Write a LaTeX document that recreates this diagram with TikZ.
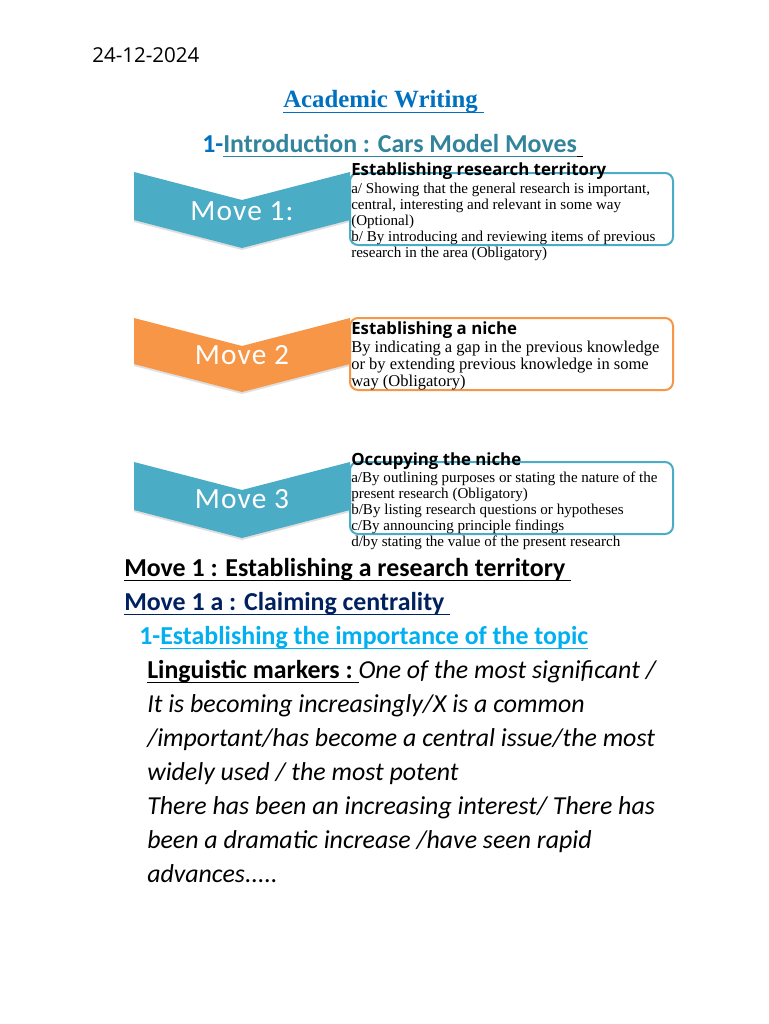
\documentclass[tikz,border=0pt]{standalone}
\usepackage{fontspec}
\setmainfont{Carlito}
\newfontfamily\serifface{Liberation Serif}
\newfontfamily\headface{Open Sans}
\newfontfamily\chevface[LetterSpace=4]{Carlito}
\usetikzlibrary{shadows}
\definecolor{cavBlue}{RGB}{0,112,192}
\definecolor{cavTeal}{RGB}{49,132,155}
\definecolor{cavNavy}{RGB}{0,32,96}
\definecolor{cavSky}{RGB}{0,176,240}
\definecolor{moveTeal}{RGB}{75,172,198}
\definecolor{moveOrange}{RGB}{247,150,70}
\newsavebox{\undlbox}
\newcommand{\undl}[1]{\sbox{\undlbox}{#1}\rlap{\vrule height -2.9pt depth 4pt width \wd\undlbox}\usebox{\undlbox}}

\tikzset{
  linetext/.style={anchor=base west, inner sep=0pt},
  movelabel/.style={anchor=base, inner sep=0pt, text=white, font=\chevface\fontsize{22}{26}\selectfont},
  chevshadow/.style={drop shadow={opacity=0.25, shadow xshift=0pt, shadow yshift=-1.5pt}},
  movebox/.style={rounded corners=6pt, line width=1.5pt},
  boxhead/.style={linetext, font=\headface\bfseries\fontsize{12.6}{14}\selectfont},
  boxline/.style={linetext, font=\serifface\fontsize{11.3}{12}\selectfont},
  bodyhead/.style={linetext, font=\bfseries\fontsize{19.4}{22}\selectfont},
  bodyline/.style={linetext, font=\itshape\fontsize{19.4}{22}\selectfont}
}

\begin{document}
\begin{tikzpicture}[x=0.75pt, y=-0.75pt]
    \fill[white] (0,0) rectangle (768,1024);
    \useasboundingbox (0,0) rectangle (768,1024);
    \node[linetext, font=\headface\fontsize{15.4}{18}\selectfont] (date) at (92,63) {24-12-2024};
    \node[linetext, text=cavBlue, font=\serifface\bfseries\fontsize{18.6}{22}\selectfont] (title) at (283,108) {\undl{Academic Writing\ }};
    \node[linetext, font=\bfseries\fontsize{19.4}{22}\selectfont] (intro) at (202,152)
      {\textcolor{cavBlue}{1-}\textcolor{cavTeal}{\undl{Introduction : Cars Model Moves}}\undl{\ }};

    \fill[moveTeal, chevshadow] (134,172) -- (242,200) -- (350,172) -- (350,220) -- (242,248) -- (134,220) -- cycle;
    \fill[moveOrange, chevshadow] (134,318) -- (242,346) -- (350,318) -- (350,364) -- (242,392) -- (134,364) -- cycle;
    \fill[moveTeal, chevshadow] (134,462) -- (242,490) -- (350,462) -- (350,510) -- (242,538) -- (134,510) -- cycle;
    \node[movelabel] (move1) at (242,220) {Move 1:};
    \node[movelabel] (move2) at (242,364) {Move 2};
    \node[movelabel] (move3) at (242,508) {Move 3};

    \draw[movebox, moveTeal] (350,173) rectangle (673,245);
    \draw[movebox, moveOrange] (350,318) rectangle (673,390);
    \draw[movebox, moveTeal] (350,462) rectangle (673,534);

    \node[boxhead] (territory) at (351,175) {Establishing research territory};
    \node[boxline] (terra) at (351,193) {a/ Showing that the general research is important,};
    \node[boxline] (terrb) at (351,209) {central, interesting and relevant in some way};
    \node[boxline] (terrc) at (351,225) {(Optional)};
    \node[boxline] (terrd) at (351,241) {b/ By introducing and reviewing items of previous};
    \node[boxline] (terre) at (351,257) {research in the area (Obligatory)};

    \node[boxhead] (niche) at (351,334) {Establishing a niche};
    \node[boxline, font=\serifface\fontsize{12.4}{13}\selectfont] (nichea) at (351,352) {By indicating a gap in the previous knowledge};
    \node[boxline, font=\serifface\fontsize{12.4}{13}\selectfont] (nicheb) at (351,369) {or by extending previous knowledge in some};
    \node[boxline, font=\serifface\fontsize{12.4}{13}\selectfont] (nichec) at (351,386) {way (Obligatory)};

    \node[boxhead] (occupy) at (351,465) {Occupying the niche};
    \node[boxline] (occa) at (351,482) {a/By outlining purposes or stating the nature of the};
    \node[boxline] (occb) at (351,498) {present research (Obligatory)};
    \node[boxline] (occc) at (351,514) {b/By listing research questions or hypotheses};
    \node[boxline] (occd) at (351,530) {c/By announcing principle findings};
    \node[boxline] (occe) at (351,546) {d/by stating the value of the present research};

    \node[bodyhead] (moveone) at (124,576) {\undl{Move 1 : Establishing a research territory\ }};
    \node[bodyhead, text=cavNavy] (centrality) at (124,610) {\undl{Move 1 a : Claiming centrality\ }};
    \node[bodyhead, text=cavSky] (importance) at (139,644) {1-\undl{Establishing the importance of the topic}};
    \node[bodyline] (markers) at (147,678) {\textup{\bfseries\undl{Linguistic markers :\ }}One of the most significant /};
    \node[bodyline] (linea) at (147,712) {It is becoming increasingly/X is a common};
    \node[bodyline] (lineb) at (147,746) {/important/has become a central issue/the most};
    \node[bodyline] (linec) at (147,780) {widely used / the most potent};
    \node[bodyline] (lined) at (147,814) {There has been an increasing interest/ There has};
    \node[bodyline] (linee) at (147,848) {been a dramatic increase /have seen rapid};
    \node[bodyline] (linef) at (147,882) {advances.....};
  \end{tikzpicture}
\end{document}
